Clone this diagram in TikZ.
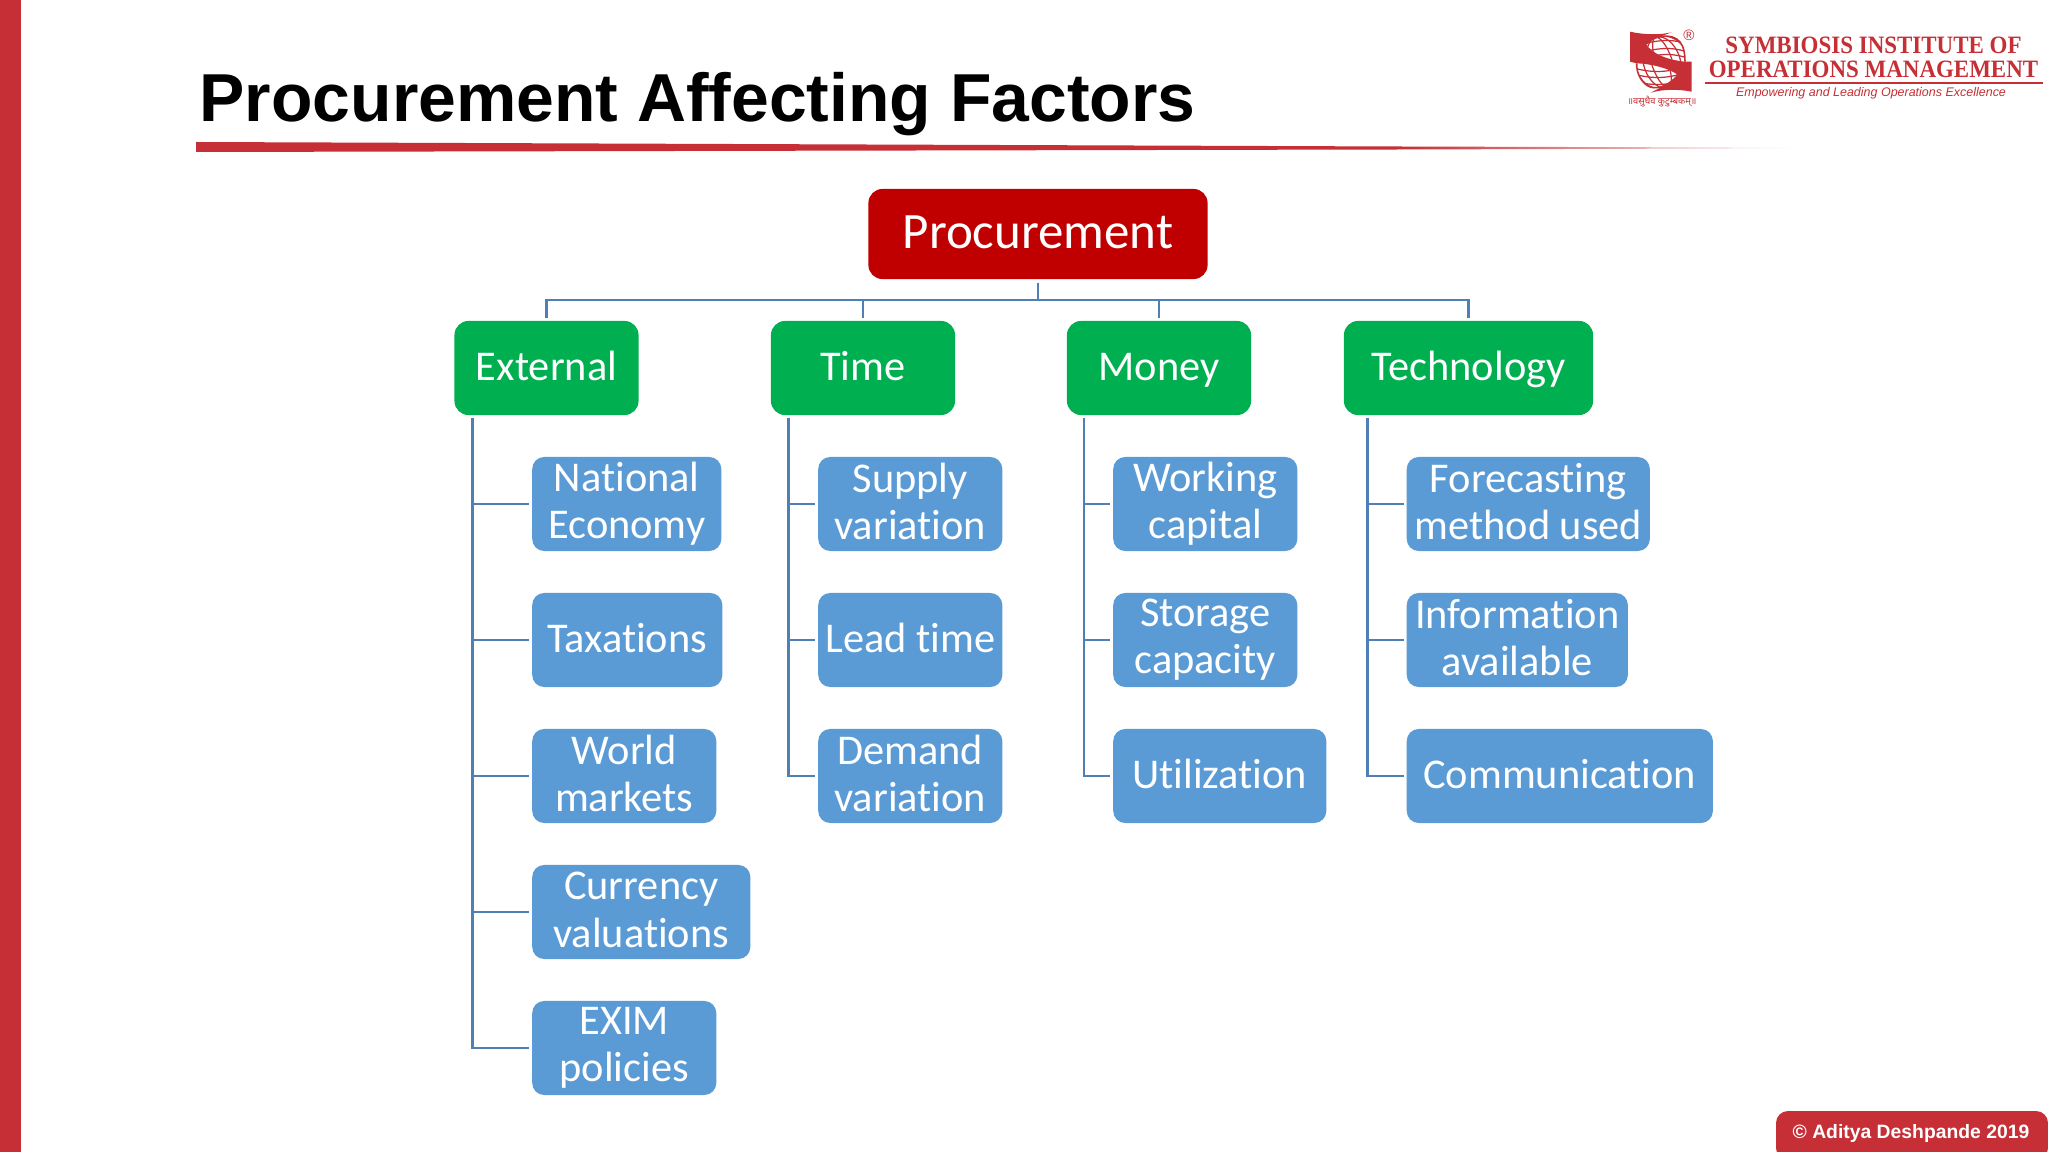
\documentclass[tikz,border=0pt]{standalone}
\usepackage{fontspec}
\setmainfont[Ligatures=NoCommon]{Carlito}
\newfontfamily\titlefont{Liberation Sans}
\newfontfamily\logofont[FakeStretch=0.92]{Liberation Serif}
\newfontfamily\hindifont[Script=Devanagari]{Noto Sans}
\usetikzlibrary{positioning}
\definecolor{barred}{HTML}{C52F35}
\definecolor{rootred}{HTML}{C00000}
\definecolor{headgreen}{HTML}{00B050}
\definecolor{leafblue}{HTML}{5B9BD5}
\definecolor{linkblue}{HTML}{4F7FB5}
\newcommand{\boxhigh}{12.1pt}
\newcommand{\boxdeep}{1.3pt}
\tikzset{
  boxbase/.style={rounded corners=1.2mm,text=white,align=center,inner sep=0,minimum height=0.94cm,font=\fontsize{12.05}{13.4}\selectfont,execute at begin node={\rule{0pt}{\boxhigh}},execute at end node={\rule[-\boxdeep]{0pt}{\boxdeep}}},
  oneline/.code={\def\boxhigh{10.3pt}\def\boxdeep{3pt}},
  rootline/.code={\def\boxhigh{12.1pt}\def\boxdeep{3.9pt}},
  rootbox/.style={boxbase,rootline,fill=rootred,rounded corners=1.4mm,minimum width=3.39cm,minimum height=0.90cm,font=\fontsize{14.5}{16}\selectfont},
  headbox/.style={boxbase,oneline,fill=headgreen,rounded corners=1.4mm,minimum width=1.84cm},
  leafbox/.style={boxbase,fill=leafblue,anchor=west},
  link/.style={draw=linkblue,line width=0.65pt},
  logotext/.style={inner sep=0,text=barred},
  gridline/.style={draw=barred,line width=0.35pt}
}
\begin{document}
\begin{tikzpicture}[x=0.01cm,y=-0.01cm]
  \useasboundingbox (0,0) rectangle (2048,1152);
  \fill[barred] (0,0) rectangle (21,1152);
  % title and rule under it
  \node[anchor=west,inner sep=0,font=\titlefont\bfseries\fontsize{19.3}{24}\selectfont] (title) at (199,104) {Procurement Affecting Factors};
  \fill[barred] (196,142) -- (1400,146.5) -- (1400,149.5) -- (196,152) -- cycle;
  \shade[left color=barred,right color=white] (1400,146.5) -- (1797,147.7) -- (1797,148.3) -- (1400,149.5) -- cycle;
  % logo
  \fill[barred] (1630,31.7) .. controls (1645,35) and (1660,35) .. (1671.7,32.3) .. controls (1662,36) and (1652,39) .. (1646,44) .. controls (1652,54) and (1668,60) .. (1685,61.7) -- (1691.7,61.7) -- (1691.7,91.7) .. controls (1678,89) and (1664,89) .. (1650.7,92.7) .. controls (1660,88) and (1671,82) .. (1678.3,75) .. controls (1668,68) and (1652,64) .. (1636.7,63.3) -- (1630,61.7) -- cycle;
  \begin{scope}
    \clip (1646,44) .. controls (1652,36) and (1672,32) .. (1680,42) .. controls (1684,47) and (1685,54) .. (1685,61.7) .. controls (1668,60) and (1652,54) .. cycle;
    \foreach \xr in {0.08,0.16,0.24}
      \draw[gridline,rotate around={20:(1664,61)}] (1664,61) ellipse [x radius=\xr cm,y radius=0.25cm];
    \foreach \lat in {42,50,56}
      \draw[gridline] (1640,\lat+3) .. controls (1660,\lat-3) and (1675,\lat-3) .. (1690,\lat+3);
  \end{scope}
  \begin{scope}
    \clip (1636.7,63.3) .. controls (1636,73) and (1642,84) .. (1650,87) .. controls (1660,90) and (1670,84) .. (1678.3,75) .. controls (1668,68) and (1652,64) .. cycle;
    \foreach \xr in {0.08,0.16,0.24}
      \draw[gridline,rotate around={20:(1660,64)}] (1660,64) ellipse [x radius=\xr cm,y radius=0.25cm];
    \foreach \lat in {70,76,83}
      \draw[gridline] (1630,\lat-3) .. controls (1650,\lat+3) and (1665,\lat+3) .. (1685,\lat-3);
  \end{scope}
  \draw[gridline,line width=0.45pt] (1646,44) .. controls (1652,36) and (1672,32) .. (1680,42) .. controls (1684,47) and (1685,54) .. (1685,61.7);
  \draw[gridline,line width=0.45pt] (1636.7,63.3) .. controls (1636,73) and (1642,84) .. (1650,87) .. controls (1660,90) and (1670,84) .. (1678.3,75);
  \node[logotext,font=\titlefont\fontsize{4.3}{5}\selectfont] (regmark) at (1689,35) {®};
  \node[logotext,font=\hindifont\fontsize{2.65}{3.1}\selectfont] (motto) at (1662,102) {॥वसुधैव कुटुम्बकम्॥};
  \node[logotext,font=\logofont\bfseries\fontsize{7.1}{8}\selectfont] (sibname) at (1873.5,45) {SYMBIOSIS INSTITUTE OF};
  \node[logotext,font=\logofont\bfseries\fontsize{7.1}{8}\selectfont] (opsname) at (1873.5,69) {OPERATIONS MANAGEMENT};
  \node[logotext,font=\titlefont\itshape\fontsize{3.55}{4}\selectfont] (tagline) at (1871,93) {Empowering and Leading Operations Excellence};
  \coordinate (logoleft) at (1705,83);
  \coordinate (logoright) at (2043,83);
  \draw[barred,line width=0.3pt] (logoleft) -- (logoright);
  % footer
  \fill[barred,rounded corners=1.2mm] (1776,1111) rectangle (2048,1160);
  \node[text=white,inner sep=0,font=\titlefont\bfseries\fontsize{5.5}{6}\selectfont] (credit) at (1911,1133) {© Aditya Deshpande 2019};
  % boxes
  \node[rootbox] (root) at (1038,234) {Procurement};
  \node[headbox] (ext) at (546.5,368) {External};
  \node[headbox] (time) at (863,368) {Time};
  \node[headbox] (money) at (1159,368) {Money};
  \node[headbox,minimum width=2.49cm] (tech) at (1468.5,368) {Technology};
  \node[leafbox,minimum width=1.89cm] (ext1) at (531.5,504) {National\\Economy};
  \node[leafbox,oneline,minimum width=1.90cm] (ext2) at (531.5,640) {Taxations};
  \node[leafbox,minimum width=1.84cm] (ext3) at (531.5,776) {World\\markets};
  \node[leafbox,minimum width=2.18cm] (ext4) at (531.5,912) {Currency\\valuations};
  \node[leafbox,minimum width=1.84cm] (ext5) at (531.5,1048) {EXIM\\policies};
  \node[leafbox,minimum width=1.84cm] (time1) at (817.5,504) {Supply\\variation};
  \node[leafbox,oneline,minimum width=1.84cm] (time2) at (817.5,640) {Lead time};
  \node[leafbox,minimum width=1.84cm] (time3) at (817.5,776) {Demand\\variation};
  \node[leafbox,minimum width=1.84cm] (money1) at (1112.5,504) {Working\\capital};
  \node[leafbox,minimum width=1.84cm] (money2) at (1112.5,640) {Storage\\capacity};
  \node[leafbox,oneline,minimum width=2.13cm] (money3) at (1112.5,776) {Utilization};
  \node[leafbox,minimum width=2.43cm] (tech1) at (1406,504) {Forecasting\\method used};
  \node[leafbox,minimum width=2.21cm] (tech2) at (1406,640) {Information\\available};
  \node[leafbox,oneline,minimum width=3.06cm] (tech3) at (1406,776) {Communication};
  % links
  \foreach \head in {ext,time,money,tech}
    \draw[link] (root.south) ++(0,3) -- ++(0,17) -| ([yshift=0.7pt]\head.north);
  \foreach \head/\spine/\leaves in {ext/472.5/{ext1,ext2,ext3,ext4,ext5},time/788.6/{time1,time2,time3},money/1084/{money1,money2,money3},tech/1367.5/{tech1,tech2,tech3}}{
    \coordinate (\head top) at (\spine,418);
    \foreach \leaf in \leaves
      \draw[link] (\head top) |- ([xshift=-0.7pt]\leaf.west);
  }
\end{tikzpicture}
\end{document}
